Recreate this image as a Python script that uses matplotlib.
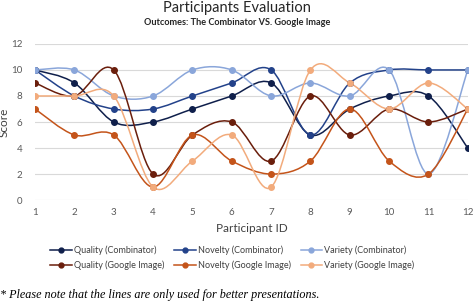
import numpy as np
import matplotlib
matplotlib.use('Agg')
import matplotlib.pyplot as plt
from matplotlib.path import Path
from matplotlib.patches import PathPatch
from matplotlib.lines import Line2D

plt.rcParams['font.family'] = ['Lato', 'DejaVu Sans']

# Datos
participants = [1, 2, 3, 4, 5, 6, 7, 8, 9, 10, 11, 12]
quality_comb = [10, 9, 6, 6, 7, 8, 9, 5, 7, 8, 8, 4]
novelty_comb = [10, 8, 7, 7, 8, 9, 10, 5, 9, 10, 10, 10]
variety_comb = [10, 10, 8, 8, 10, 10, 8, 9, 8, 10, 2, 10]
quality_google = [9, 8, 10, 2, 5, 6, 3, 8, 5, 7, 6, 7]
novelty_google = [7, 5, 5, 1, 5, 3, 2, 3, 7, 3, 2, 7]
variety_google = [8, 8, 8, 1, 3, 5, 1, 10, 9, 7, 9, 7]

series_names = ['Quality (Combinator)', 'Novelty (Combinator)', 'Variety (Combinator)',
                'Quality (Google Image)', 'Novelty (Google Image)', 'Variety (Google Image)']
series_values = [quality_comb, novelty_comb, variety_comb,
                 quality_google, novelty_google, variety_google]
colors = ['#0f1f4b', '#23428a', '#8aa6da', '#6a1e0c', '#c4541a', '#f2ab7c']


def smooth_path(x, y):
    # curva suavizada tipo Excel (Bezier a partir de los puntos)
    x = np.asarray(x, float)
    y = np.asarray(y, float)
    n = len(x)
    verts = [(x[0], y[0])]
    codes = [Path.MOVETO]
    for i in range(n - 1):
        p0 = np.array([x[max(i - 1, 0)], y[max(i - 1, 0)]])
        p1 = np.array([x[i], y[i]])
        p2 = np.array([x[i + 1], y[i + 1]])
        p3 = np.array([x[min(i + 2, n - 1)], y[min(i + 2, n - 1)]])
        c1 = p1 + (p2 - p0) / 6
        c2 = p2 - (p3 - p1) / 6
        verts += [tuple(c1), tuple(c2), tuple(p2)]
        codes += [Path.CURVE4] * 3
    return Path(verts, codes)


fig = plt.figure(figsize=(4.74, 3.05), dpi=100)
ax = fig.add_axes([0.074, 0.344, 0.913, 0.512])

for vals, col in zip(series_values, colors):
    ax.add_patch(PathPatch(smooth_path(participants, vals), facecolor='none',
                           edgecolor=col, lw=1.1, zorder=3))
    ax.plot(participants, vals, 'o', color=col, ms=4, zorder=4)

ax.set_xlim(1, 12)
ax.set_ylim(0, 12)
ax.set_xticks(participants)
ax.set_yticks(range(0, 13, 2))
ax.yaxis.grid(True, color='#d9d9d9', lw=0.8)
ax.set_axisbelow(True)
for s in ax.spines.values():
    s.set_visible(False)
ax.tick_params(length=0, labelsize=7, colors='#595959', pad=6)
ax.tick_params(axis='y', pad=9)
ax.set_xlabel('Participant ID', fontsize=8.5, color='#404040', labelpad=4)
ax.set_ylabel('Score', fontsize=8.5, color='#404040')
ax.yaxis.set_label_coords(-0.058, 0.5)

fig.text(0.5, 0.975, 'Participants Evaluation', ha='center', va='center',
         fontsize=10.5, color='#262626')
fig.text(0.5, 0.927, 'Outcomes: The Combinator VS. Google Image', ha='center', va='center',
         fontsize=6.6, fontweight='bold', color='#262626')

# la leyenda se llena por columnas, así que se reordena para leer por filas
order = [0, 3, 1, 4, 2, 5]
handles = [Line2D([], [], color=colors[i], marker='o', ms=3.5, lw=1.1) for i in order]
labels = [series_names[i] for i in order]
fig.legend(handles, labels, loc='center', bbox_to_anchor=(0.49, 0.155), ncol=3,
           frameon=False, fontsize=6.5, labelcolor='#404040', handlelength=2.4,
           handletextpad=0.2, columnspacing=1.1, labelspacing=0.6)

fig.text(0.0, 0.022, '* Please note that the lines are only used for better presentations.',
         fontsize=8.7, style='italic', family='Liberation Serif')

fig.savefig('out.png', dpi=100)
